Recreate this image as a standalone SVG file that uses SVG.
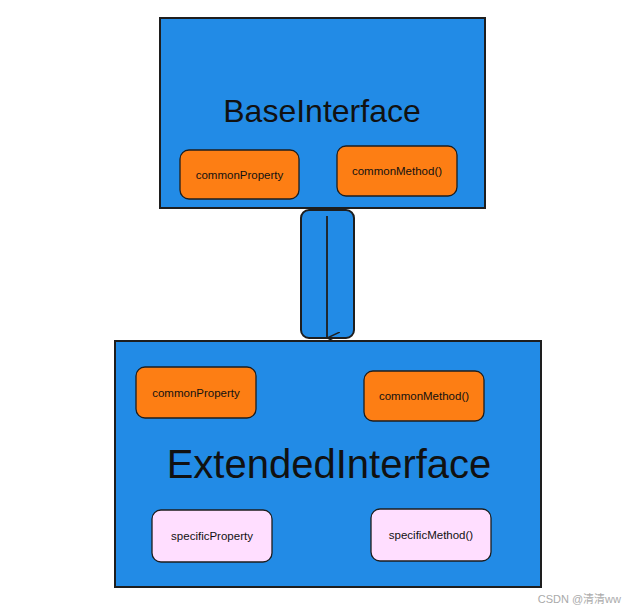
<svg xmlns="http://www.w3.org/2000/svg" width="627" height="610" viewBox="0 0 627 610">
<style>
.big{fill:#228be6;stroke:#1e1e1e;stroke-width:2}
.or{fill:#fd7e14;stroke:#1e1e1e;stroke-width:1.3}
.pk{fill:#ffdeff;stroke:#1e1e1e;stroke-width:1.3}
.t{font-family:"Comic Sans MS","Liberation Sans",sans-serif;fill:#111;text-anchor:middle}
.s{font-size:11.5px}
</style>
<defs><marker id="ah" markerWidth="12" markerHeight="14" refX="6" refY="13" orient="auto" markerUnits="userSpaceOnUse"><path d="M0,0 L6,13 L12,0" fill="none" stroke="#1e1e1e" stroke-width="1.5"/></marker></defs>
<rect width="627" height="610" fill="#fff"/>
<g id="base">
<rect class="big" x="160" y="18" width="325" height="190"/>
<text class="t" x="322" y="122" font-size="32">BaseInterface</text>
</g>
<g id="base-prop"><rect class="or" x="180" y="150" width="119" height="49" rx="9"/><text class="t s" x="239.5" y="179">commonProperty</text></g>
<g id="base-meth"><rect class="or" x="337" y="146" width="120" height="50" rx="9"/><text class="t s" x="397" y="175">commonMethod()</text></g>
<g id="connectors">
<rect class="big" x="301" y="210" width="53" height="128" rx="8" stroke-width="1.5"/>
<line x1="327" y1="216" x2="327" y2="338" stroke="#1e1e1e" stroke-width="1.8" marker-end="url(#ah)"/>
</g>
<g id="ext">
<rect class="big" x="115" y="341" width="426" height="246"/>
<text class="t" x="329" y="478" font-size="40">ExtendedInterface</text>
</g>
<g id="ext-cprop"><rect class="or" x="136" y="367" width="120" height="51" rx="9"/><text class="t s" x="196" y="397">commonProperty</text></g>
<g id="ext-cmeth"><rect class="or" x="364" y="371" width="120" height="50" rx="9"/><text class="t s" x="424" y="400">commonMethod()</text></g>
<g id="ext-sprop"><rect class="pk" x="152" y="510" width="120" height="52" rx="9"/><text class="t s" x="212" y="540">specificProperty</text></g>
<g id="ext-smeth"><rect class="pk" x="371" y="509" width="120" height="52" rx="9"/><text class="t s" x="431" y="539">specificMethod()</text></g>
<text x="621" y="603" font-family="'Liberation Sans','Noto Sans CJK SC',sans-serif" font-size="11" fill="#aaa" text-anchor="end">CSDN @清清ww</text>
</svg>
